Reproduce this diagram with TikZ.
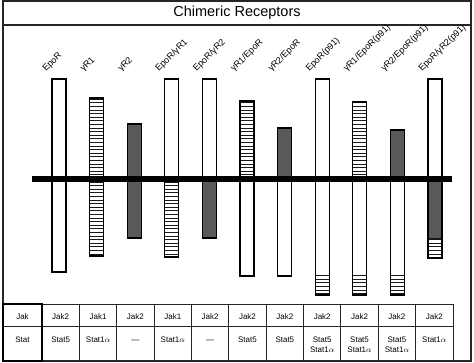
\documentclass[tikz,border=0pt]{standalone}
\usepackage{fontspec}
\setmainfont{Liberation Sans}

% horizontal hatching inside one part of a bar: centre, top, bottom
\newcommand{\hatchseg}[3]{%
  \begin{scope}
    \clip (#1-7,#2) rectangle (#1+7,#3);
    \foreach \hy in {74,77.6,...,300} \draw[hatchline] (#1-7,\hy) -- (#1+7,\hy);
  \end{scope}
  \draw[hatchline] (#1-7,#2) -- (#1+7,#2) (#1-7,#3) -- (#1+7,#3);}

\begin{document}
\begin{tikzpicture}[x=1pt,y=-1pt,
  frameline/.style={draw=black!85,line width=1.3pt},
  gridline/.style={draw=black!85,line width=0.9pt},
  barbox/.style={draw=black,line width=1.1pt},
  grayfill/.style={fill=black!65},
  hatchline/.style={draw=black!90,line width=0.6pt},
  rlabel/.style={rotate=45,anchor=base west,inner sep=0pt,font=\fontsize{9}{10}\selectfont},
  cell/.style={font=\fontsize{8}{10.5}\selectfont,align=center,inner sep=0pt}]
\useasboundingbox (0,0) rectangle (474,363);

% frame and title
\draw[frameline] (3,1) rectangle (471,361);
\draw[frameline] (3,25) -- (471,25);
\node[font=\fontsize{14.5}{17}\selectfont,inner sep=0pt] (title) at (237,13) {Chimeric Receptors};

% receptor names
\foreach \i/\name in {1/EpoR,2/γR1,3/γR2,4/{EpoR/γR1},5/{EpoR/γR2},6/{γR1/EpoR},7/{γR2/EpoR},
    8/EpoR(p91),9/{γR1/EpoR(p91)},10/{γR2/EpoR(p91)},11/{EpoR/γR2(p91)}}
  \node[rlabel] (lab-\i) at ({59+37.6*(\i-1)-13},72) {\name};

% shaded and hatched parts of the bars
\hatchseg{96.6}{98}{256}
\fill[grayfill] (127.2,124) rectangle (141.2,238);
\hatchseg{171.8}{179}{257}
\fill[grayfill] (202.4,179) rectangle (216.4,238);
\hatchseg{247}{101}{179}
\fill[grayfill] (277.6,128) rectangle (291.6,179);
\hatchseg{322.2}{275}{295}
\hatchseg{359.8}{102}{179}
\hatchseg{359.8}{275}{295}
\fill[grayfill] (390.4,130) rectangle (404.4,179);
\hatchseg{397.4}{275}{295}
\fill[grayfill] (428,179) rectangle (442,238);
\hatchseg{435}{238}{258}

% bar outlines
\foreach \i/\top/\bot in {1/79/272,2/98/256,3/124/238,4/79/257,5/79/238,6/101/276,
    7/128/276,8/79/295,9/102/295,10/130/295,11/79/258}
  \draw[barbox] ({59+37.6*(\i-1)-7},\top) rectangle ({59+37.6*(\i-1)+7},\bot);

% membrane
\coordinate (mem-w) at (32,179);
\coordinate (mem-e) at (452,179);
\draw[line width=6.5pt] (mem-w) -- (mem-e);

% table
\draw[gridline] (3,304) -- (453,304) (3,326) -- (453,326) (453,304) -- (453,361);
\foreach \i in {1,...,10}
  \draw[gridline] ({42+37.36*\i},304) -- ({42+37.36*\i},361);
\draw[draw=black,line width=2.6pt] (3,304) rectangle (42,361);
\node[cell] (jak-0) at (22.5,317) {Jak};
\node[cell,anchor=north] (stat-0) at (22.5,336) {\rule{0pt}{6pt}Stat};
\foreach \i/\jk/\st in {1/Jak2/Stat5,2/Jak1/Stat1$\alpha$,3/Jak2/---,4/Jak1/Stat1$\alpha$,
    5/Jak2/---,6/Jak2/Stat5,7/Jak2/Stat5,8/Jak2/{Stat5\\Stat1$\alpha$},
    9/Jak2/{Stat5\\Stat1$\alpha$},10/Jak2/{Stat5\\Stat1$\alpha$},11/Jak2/Stat1$\alpha$}
{
  \node[cell] (jak-\i) at ({42+37.36*(\i-0.5)},317) {\jk};
  \node[cell,anchor=north] (stat-\i) at ({42+37.36*(\i-0.5)},336) {\rule{0pt}{6pt}\st};
}
\end{tikzpicture}
\end{document}
